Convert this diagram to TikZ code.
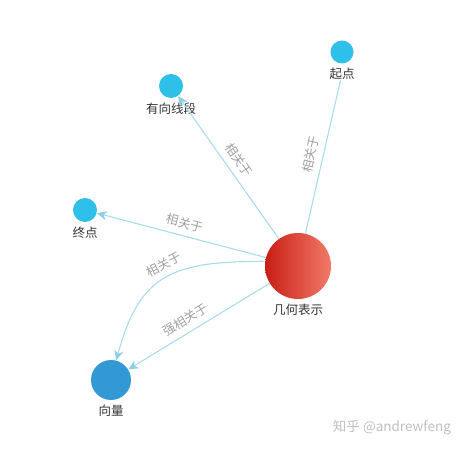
\documentclass[tikz,border=0pt]{standalone}
\usepackage{fontspec}
\setmainfont{Noto Sans CJK SC}
\usetikzlibrary{arrows.meta}
\definecolor{dotcyan}{HTML}{2EC0E8}
\definecolor{dotblue}{HTML}{3399D5}
\definecolor{hubdark}{HTML}{C81E14}
\definecolor{hublight}{HTML}{F27A6A}
\definecolor{linkblue}{HTML}{A8DCEC}
\definecolor{tipblue}{HTML}{8FCFE6}
\definecolor{linktext}{HTML}{A0A0A0}
\definecolor{nametext}{HTML}{333333}
\begin{document}
\begin{tikzpicture}[x=1pt,y=1pt,
  ball/.style={circle,fill=#1,inner sep=0pt},
  tag/.style={text=nametext,font=\fontsize{12.5}{14}\selectfont,inner sep=1pt},
  link/.style={draw=linkblue,line width=1.1pt,-{Stealth[length=10pt,width=9pt,inset=3pt,color=tipblue]}},
  rel/.style={text=linktext,font=\fontsize{12.5}{14}\selectfont,sloped,above=3pt}]
\useasboundingbox (0,0) rectangle (474,450);
\node[circle,minimum size=66pt,inner sep=0pt,left color=hubdark,right color=hublight,
	label={[tag,label distance=4pt]below:几何表示}] (hub) at (298,184) {};
\node[ball=dotblue,minimum size=40pt,label={[tag,label distance=4pt]below:向量}] (vec) at (111,70) {};
\node[ball=dotcyan,minimum size=24pt,label={[tag,label distance=4pt]below:终点}] (end) at (85,240) {};
\node[ball=dotcyan,minimum size=24pt,label={[tag,label distance=4pt]below:有向线段}] (seg) at (171,364) {};
\node[ball=dotcyan,minimum size=23pt,label={[tag,name=startlab,label distance=3pt]below:起点}] (start) at (342,398) {};
% relations
\draw[link,-] (hub) -- node[rel]{相关于} (startlab);
\draw[link] (hub) -- node[rel]{相关于} (seg);
\draw[link] (hub) -- node[rel]{相关于} (end);
\draw[link] (hub.172) to[out=180,in=75,looseness=1.3] node[rel,pos=0.47]{相关于} (vec);
\draw[link] (hub) -- node[rel,pos=0.55]{强相关于} (vec);
\node[text=black!25,font=\fontsize{13.5}{15}\selectfont] (mark) at (392,22) {知乎 @andrewfeng};
\end{tikzpicture}
\end{document}
